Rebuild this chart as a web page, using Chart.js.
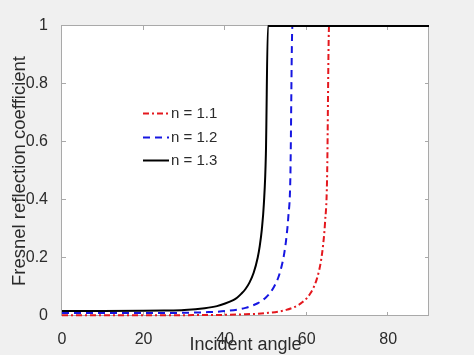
<!DOCTYPE html>
<html>
<head>
<meta charset="utf-8">
<script src="https://cdn.jsdelivr.net/npm/chart.js@4/dist/chart.umd.min.js"></script>
<style>
  html, body { margin: 0; padding: 0; background: #f0f0f0; }
  canvas { display: block; }
</style>
</head>
<body>
<canvas id="c" width="474" height="355"></canvas>
<script>
// ---- data ----
const seriesLabels = ['n = 1.1', 'n = 1.2', 'n = 1.3'];

const anglesN11 = [0, 20, 30, 40, 45, 50, 55, 58, 59, 60, 61, 62, 62.5, 63, 63.5, 64, 64.5, 65, 65.5, 90];
const valuesN11 = [0.003, 0.003, 0.003, 0.004, 0.006, 0.010, 0.021, 0.038, 0.048, 0.061, 0.080, 0.108, 0.128, 0.154, 0.189, 0.241, 0.321, 0.471, 1, 1];

const anglesN12 = [0, 10, 20, 30, 35, 40, 45, 48, 49, 50, 51, 52, 53, 54, 54.5, 55, 55.5, 56, 56.5, 90];
const valuesN12 = [0.010, 0.010, 0.010, 0.011, 0.013, 0.017, 0.028, 0.044, 0.053, 0.064, 0.079, 0.101, 0.131, 0.180, 0.216, 0.267, 0.342, 0.477, 1, 1];

const anglesN13 = [0, 10, 20, 25, 30, 35, 38, 40, 42, 43, 44, 45, 46, 47, 48, 48.5, 49, 49.5, 50, 50.5, 90];
const valuesN13 = [0.017, 0.017, 0.018, 0.019, 0.021, 0.027, 0.034, 0.043, 0.055, 0.064, 0.077, 0.093, 0.116, 0.149, 0.202, 0.242, 0.298, 0.386, 0.559, 1, 1];

const xTickValues = [0, 20, 40, 60, 80];
const yTickValues = [0, 0.2, 0.4, 0.6, 0.8, 1];

const xTitle = 'Incident angle';
const yTitle = 'Fresnel reflection coefficient';

// ---- helpers ----
const pts = (xs, ys) => xs.map((x, i) => ({ x: x, y: ys[i] }));
const FONT = '"Liberation Sans", Arial, Helvetica, sans-serif';
const TEXT = '#2b2b2b';
const FRAME = '#a9a9a9';

const bgPlugin = {
  id: 'bgFrame',
  beforeDraw(chart) {
    const { ctx, chartArea: a } = chart;
    ctx.save();
    ctx.fillStyle = '#f0f0f0';
    ctx.fillRect(0, 0, chart.width, chart.height);
    ctx.fillStyle = '#ffffff';
    ctx.fillRect(a.left, a.top, a.right - a.left, a.bottom - a.top);
    ctx.restore();
  },
  beforeDatasetsDraw(chart) {
    const { ctx, chartArea: a, scales } = chart;
    ctx.save();
    ctx.strokeStyle = FRAME;
    ctx.lineWidth = 1;
    ctx.strokeRect(a.left - 0.5, a.top - 0.5, a.right - a.left, a.bottom - a.top);
    const tl = 4;
    ctx.beginPath();
    xTickValues.forEach(v => {
      const px = Math.round(scales.x.getPixelForValue(v)) - 0.5;
      ctx.moveTo(px, a.bottom); ctx.lineTo(px, a.bottom - tl);
      ctx.moveTo(px, a.top); ctx.lineTo(px, a.top + tl);
    });
    yTickValues.forEach(v => {
      const py = Math.round(scales.y.getPixelForValue(v)) - 0.5;
      ctx.moveTo(a.left, py); ctx.lineTo(a.left + tl, py);
      ctx.moveTo(a.right, py); ctx.lineTo(a.right - tl, py);
    });
    ctx.stroke();
    ctx.restore();
  },
  afterDatasetsDraw(chart) {
    // in-axes legend (no box), like the reference
    const { ctx } = chart;
    const ds = chart.data.datasets;
    const x0 = 143, x1 = 169, tx = 171;
    const rows = [113, 137, 160];
    ctx.save();
    ds.forEach((d, i) => {
      const y = rows[i] + 0.5;
      ctx.beginPath();
      ctx.setLineDash(d.borderDash || []);
      ctx.strokeStyle = d.borderColor;
      ctx.lineWidth = d.borderWidth;
      ctx.moveTo(x0, y); ctx.lineTo(x1, y);
      ctx.stroke();
      ctx.setLineDash([]);
      ctx.fillStyle = TEXT;
      ctx.font = '15px ' + FONT;
      ctx.textBaseline = 'middle';
      ctx.textAlign = 'left';
      ctx.fillText(d.label, tx, rows[i] + 1);
    });
    ctx.restore();
  }
};

new Chart(document.getElementById('c'), {
  type: 'line',
  data: {
    datasets: [
      { label: seriesLabels[0], data: pts(anglesN11, valuesN11), borderColor: 'rgb(228,24,30)',
        borderDash: [6, 3, 2, 3], borderWidth: 2, order: 3 },
      { label: seriesLabels[1], data: pts(anglesN12, valuesN12), borderColor: 'rgb(22,22,225)',
        borderDash: [7, 5], borderWidth: 2, order: 2 },
      { label: seriesLabels[2], data: pts(anglesN13, valuesN13), borderColor: '#000000',
        borderWidth: 2, order: 1 }
    ]
  },
  options: {
    responsive: false,
    devicePixelRatio: 1,
    animation: false,
    events: [],
    layout: { padding: { left: 0, right: 45, top: 26, bottom: 0 } },
    elements: {
      point: { radius: 0 },
      line: { cubicInterpolationMode: 'monotone', fill: false }
    },
    datasets: { line: { clip: 3 } },
    plugins: { legend: { display: false }, tooltip: { enabled: false } },
    scales: {
      x: {
        type: 'linear', min: 0, max: 90,
        grid: { display: false }, border: { display: false },
        afterBuildTicks: s => { s.ticks = xTickValues.map(v => ({ value: v })); },
        afterFit: s => { s.height = 39; },
        ticks: { color: TEXT, font: { family: FONT, size: 16 }, padding: 6, maxRotation: 0,
                 callback: v => String(v) },
        title: { display: true, text: xTitle, color: TEXT,
                 font: { family: FONT, size: 18, lineHeight: 1.1 }, padding: 0 }
      },
      y: {
        type: 'linear', min: 0, max: 1,
        grid: { display: false }, border: { display: false },
        afterBuildTicks: s => { s.ticks = yTickValues.map(v => ({ value: v })); },
        afterFit: s => { s.width = 62; },
        ticks: { color: TEXT, font: { family: FONT, size: 16 }, padding: 6,
                 callback: v => String(v) },
        title: { display: true, text: yTitle, color: TEXT,
                 font: { family: FONT, size: 18.5, lineHeight: 1.2 }, padding: { top: 9, bottom: 0 } }
      }
    }
  },
  plugins: [bgPlugin]
});
</script>
</body>
</html>
